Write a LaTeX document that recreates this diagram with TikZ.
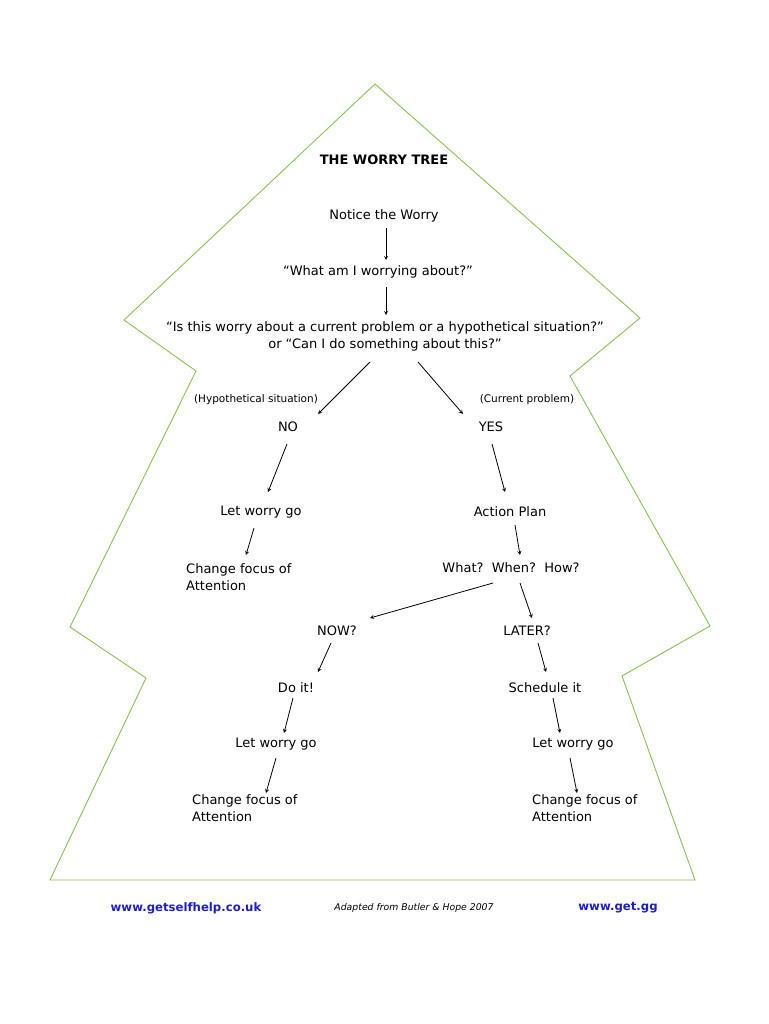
\documentclass[tikz,border=0pt]{standalone}
\usepackage{fontspec}
\setmainfont{DejaVu Sans}
\begin{document}
\begin{tikzpicture}[x=1pt,y=-1pt,
  t/.style={inner sep=1pt,font=\fontsize{13pt}{17pt}\selectfont},
  tl/.style={t,anchor=west,align=left},
  s/.style={inner sep=1pt,font=\fontsize{10.5pt}{12pt}\selectfont},
  ar/.style={-stealth,line width=0.8pt}]
\useasboundingbox (0,0) rectangle (768,1024);
\draw[color={rgb,255:red,140;green,190;blue,80},line width=0.9pt]
 (375,84) -- (640,318) -- (570,376) -- (710,626) -- (622,676) -- (695,880)
 -- (50,880) -- (146,678) -- (70,627) -- (196,371) -- (124,320) -- cycle;
\node[t,font=\fontsize{13pt}{14pt}\selectfont\bfseries] (title) at (384,160) {THE WORRY TREE};
\node[t] (n1) at (384,216) {Notice the Worry};
\node[t] (n2) at (378,272) {“What am I worrying about?”};
\node[t,align=center] (n3) at (385,336) {“Is this worry about a current problem or a hypothetical situation?”\\or “Can I do something about this?”};
\node[s] (h) at (256,400) {(Hypothetical situation)};
\node[s] (c) at (527,400) {(Current problem)};
\node[t] (no) at (288,427) {NO};
\node[t] (yes) at (491,427) {YES};
\node[t] (lg1) at (261,512) {Let worry go};
\node[t] (ap) at (510,512) {Action Plan};
\node[tl] (cf1) at (185,577) {Change focus of\\Attention};
\node[t] (www) at (511,568) {What?\ \ When?\ \ How?};
\node[t] (now) at (337,631) {NOW?};
\node[t] (later) at (527,631) {LATER?};
\node[t] (do) at (296,688) {Do it!};
\node[t] (sch) at (545,688) {Schedule it};
\node[t] (lg2) at (276,744) {Let worry go};
\node[t] (lg3) at (573,744) {Let worry go};
\node[tl] (cf2) at (191,808) {Change focus of\\Attention};
\node[tl] (cf3) at (531,808) {Change focus of\\Attention};
\node[inner sep=1pt,font=\fontsize{11.7pt}{13pt}\selectfont\bfseries,text={rgb,255:red,30;green,30;blue,200}] (f1) at (186,908) {www.getselfhelp.co.uk};
\node[inner sep=1pt,font=\fontsize{9.3pt}{11pt}\selectfont\itshape] (f2) at (414,908) {Adapted from Butler \& Hope 2007};
\node[inner sep=1pt,font=\fontsize{11.7pt}{13pt}\selectfont\bfseries,text={rgb,255:red,30;green,30;blue,200}] (f3) at (618,908) {www.get.gg};
\foreach \i/\a/\b/\c/\d in {1/386/228/386/260, 2/386/287/386/315, 3/370/362/318/414,
  4/418/362/463/414, 5/287/444/268/492, 6/492/444/505/492, 7/254/528/246/555,
  8/515/525/520/555, 9/493/583/370/618, 10/520/583/532/618, 11/331/643/318/672,
  12/538/643/546/672, 13/293/698/284/733, 14/553/698/560/733, 15/276/758/266/793,
  16/570/758/577/793}{
  \coordinate (s\i) at (\a,\b); \coordinate (e\i) at (\c,\d);
  \draw[ar] (s\i) -- (e\i);}
\end{tikzpicture}
\end{document}
